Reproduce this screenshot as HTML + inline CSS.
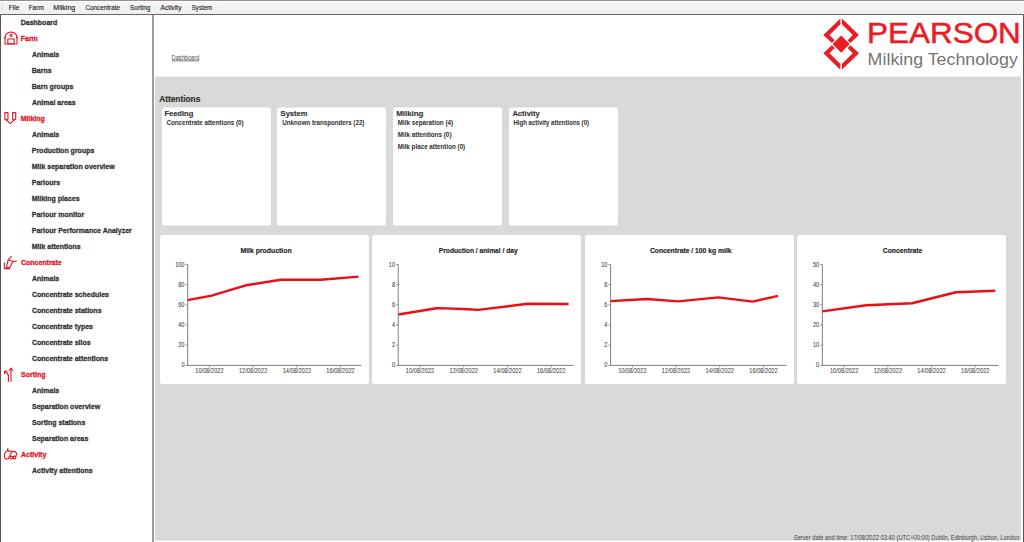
<!DOCTYPE html>
<html><head><meta charset="utf-8"><title>Dashboard</title>
<style>
html,body{margin:0;padding:0;background:#fff;width:1024px;height:542px;overflow:hidden;}
svg{display:block;font-family:"Liberation Sans", sans-serif;}
</style></head><body>
<svg width="1024" height="542" viewBox="0 0 1024 542">
<rect x="0" y="0" width="1024" height="542" fill="#ffffff"/>
<defs><linearGradient id="mb" x1="0" y1="0" x2="0" y2="1"><stop offset="0" stop-color="#f6f6f6"/><stop offset="1" stop-color="#efefef"/></linearGradient></defs>
<rect x="0" y="0" width="1024" height="14" fill="url(#mb)"/>
<rect x="0" y="0" width="1024" height="1" fill="#9c8f94"/>
<rect x="0" y="1" width="1024" height="1" fill="#ffffff"/>
<rect x="0" y="14" width="1024" height="1" fill="#666666"/>
<rect x="2" y="3" width="1" height="8" fill="#dddddd"/>
<text x="8.86" y="9.8" font-size="7" fill="#1a1a1a" text-anchor="start" textLength="10.53" lengthAdjust="spacingAndGlyphs" stroke="#1a1a1a" stroke-width="0.12">File</text>
<text x="28.67" y="9.8" font-size="7" fill="#1a1a1a" text-anchor="start" textLength="15.16" lengthAdjust="spacingAndGlyphs" stroke="#1a1a1a" stroke-width="0.12">Farm</text>
<text x="53.32" y="9.8" font-size="7" fill="#1a1a1a" text-anchor="start" textLength="21.93" lengthAdjust="spacingAndGlyphs" stroke="#1a1a1a" stroke-width="0.12">Milking</text>
<text x="85.48" y="9.8" font-size="7" fill="#1a1a1a" text-anchor="start" textLength="34.50" lengthAdjust="spacingAndGlyphs" stroke="#1a1a1a" stroke-width="0.12">Concentrate</text>
<text x="130.00" y="9.8" font-size="7" fill="#1a1a1a" text-anchor="start" textLength="20.41" lengthAdjust="spacingAndGlyphs" stroke="#1a1a1a" stroke-width="0.12">Sorting</text>
<text x="160.59" y="9.8" font-size="7" fill="#1a1a1a" text-anchor="start" textLength="20.93" lengthAdjust="spacingAndGlyphs" stroke="#1a1a1a" stroke-width="0.12">Activity</text>
<text x="191.72" y="9.8" font-size="7" fill="#1a1a1a" text-anchor="start" textLength="20.49" lengthAdjust="spacingAndGlyphs" stroke="#1a1a1a" stroke-width="0.12">System</text>
<rect x="0" y="15" width="1" height="527" fill="#555555"/>
<rect x="152" y="15" width="2" height="527" fill="#9c9c9c"/>
<rect x="1023" y="15" width="1" height="527" fill="#555555"/>
<rect x="155" y="76.5" width="866" height="463.5" fill="#d9d9d7"/>
<rect x="155" y="538" width="866" height="2" fill="#d6d7d3"/>
<rect x="155" y="540" width="866" height="1" fill="#ececec"/>
<text x="20.73" y="25.1" font-size="7.9" font-weight="bold" fill="#333333" text-anchor="start" textLength="36.56" lengthAdjust="spacingAndGlyphs" stroke="#333333" stroke-width="0.3">Dashboard</text>
<text x="20.73" y="41.1" font-size="7.9" font-weight="bold" fill="#e8141e" text-anchor="start" textLength="17.12" lengthAdjust="spacingAndGlyphs" stroke="#e8141e" stroke-width="0.3">Farm</text>
<text x="32.03" y="57.1" font-size="7.9" font-weight="bold" fill="#333333" text-anchor="start" textLength="27.23" lengthAdjust="spacingAndGlyphs" stroke="#333333" stroke-width="0.3">Animals</text>
<text x="31.73" y="73.1" font-size="7.9" font-weight="bold" fill="#333333" text-anchor="start" textLength="19.84" lengthAdjust="spacingAndGlyphs" stroke="#333333" stroke-width="0.3">Barns</text>
<text x="31.73" y="89.1" font-size="7.9" font-weight="bold" fill="#333333" text-anchor="start" textLength="41.61" lengthAdjust="spacingAndGlyphs" stroke="#333333" stroke-width="0.3">Barn groups</text>
<text x="32.03" y="105.1" font-size="7.9" font-weight="bold" fill="#333333" text-anchor="start" textLength="43.58" lengthAdjust="spacingAndGlyphs" stroke="#333333" stroke-width="0.3">Animal areas</text>
<text x="20.73" y="121.1" font-size="7.9" font-weight="bold" fill="#e8141e" text-anchor="start" textLength="24.11" lengthAdjust="spacingAndGlyphs" stroke="#e8141e" stroke-width="0.3">Milking</text>
<text x="32.03" y="137.1" font-size="7.9" font-weight="bold" fill="#333333" text-anchor="start" textLength="27.23" lengthAdjust="spacingAndGlyphs" stroke="#333333" stroke-width="0.3">Animals</text>
<text x="31.73" y="153.1" font-size="7.9" font-weight="bold" fill="#333333" text-anchor="start" textLength="62.61" lengthAdjust="spacingAndGlyphs" stroke="#333333" stroke-width="0.3">Production groups</text>
<text x="31.73" y="169.1" font-size="7.9" font-weight="bold" fill="#333333" text-anchor="start" textLength="82.87" lengthAdjust="spacingAndGlyphs" stroke="#333333" stroke-width="0.3">Milk separation overview</text>
<text x="31.73" y="185.1" font-size="7.9" font-weight="bold" fill="#333333" text-anchor="start" textLength="28.40" lengthAdjust="spacingAndGlyphs" stroke="#333333" stroke-width="0.3">Parlours</text>
<text x="31.73" y="201.1" font-size="7.9" font-weight="bold" fill="#333333" text-anchor="start" textLength="47.85" lengthAdjust="spacingAndGlyphs" stroke="#333333" stroke-width="0.3">Milking places</text>
<text x="31.73" y="217.1" font-size="7.9" font-weight="bold" fill="#333333" text-anchor="start" textLength="52.50" lengthAdjust="spacingAndGlyphs" stroke="#333333" stroke-width="0.3">Parlour monitor</text>
<text x="31.73" y="233.1" font-size="7.9" font-weight="bold" fill="#333333" text-anchor="start" textLength="100.11" lengthAdjust="spacingAndGlyphs" stroke="#333333" stroke-width="0.3">Parlour Performance Analyzer</text>
<text x="31.73" y="249.1" font-size="7.9" font-weight="bold" fill="#333333" text-anchor="start" textLength="49.00" lengthAdjust="spacingAndGlyphs" stroke="#333333" stroke-width="0.3">Milk attentions</text>
<text x="20.91" y="265.1" font-size="7.9" font-weight="bold" fill="#e8141e" text-anchor="start" textLength="40.84" lengthAdjust="spacingAndGlyphs" stroke="#e8141e" stroke-width="0.3">Concentrate</text>
<text x="32.03" y="281.1" font-size="7.9" font-weight="bold" fill="#333333" text-anchor="start" textLength="27.23" lengthAdjust="spacingAndGlyphs" stroke="#333333" stroke-width="0.3">Animals</text>
<text x="31.91" y="297.1" font-size="7.9" font-weight="bold" fill="#333333" text-anchor="start" textLength="77.02" lengthAdjust="spacingAndGlyphs" stroke="#333333" stroke-width="0.3">Concentrate schedules</text>
<text x="31.91" y="313.1" font-size="7.9" font-weight="bold" fill="#333333" text-anchor="start" textLength="69.62" lengthAdjust="spacingAndGlyphs" stroke="#333333" stroke-width="0.3">Concentrate stations</text>
<text x="31.91" y="329.1" font-size="7.9" font-weight="bold" fill="#333333" text-anchor="start" textLength="61.07" lengthAdjust="spacingAndGlyphs" stroke="#333333" stroke-width="0.3">Concentrate types</text>
<text x="31.91" y="345.1" font-size="7.9" font-weight="bold" fill="#333333" text-anchor="start" textLength="58.74" lengthAdjust="spacingAndGlyphs" stroke="#333333" stroke-width="0.3">Concentrate silos</text>
<text x="31.91" y="361.1" font-size="7.9" font-weight="bold" fill="#333333" text-anchor="start" textLength="76.23" lengthAdjust="spacingAndGlyphs" stroke="#333333" stroke-width="0.3">Concentrate attentions</text>
<text x="21.00" y="377.1" font-size="7.9" font-weight="bold" fill="#e8141e" text-anchor="start" textLength="24.50" lengthAdjust="spacingAndGlyphs" stroke="#e8141e" stroke-width="0.3">Sorting</text>
<text x="32.03" y="393.1" font-size="7.9" font-weight="bold" fill="#333333" text-anchor="start" textLength="27.23" lengthAdjust="spacingAndGlyphs" stroke="#333333" stroke-width="0.3">Animals</text>
<text x="32.00" y="409.1" font-size="7.9" font-weight="bold" fill="#333333" text-anchor="start" textLength="68.08" lengthAdjust="spacingAndGlyphs" stroke="#333333" stroke-width="0.3">Separation overview</text>
<text x="32.00" y="425.1" font-size="7.9" font-weight="bold" fill="#333333" text-anchor="start" textLength="53.28" lengthAdjust="spacingAndGlyphs" stroke="#333333" stroke-width="0.3">Sorting stations</text>
<text x="32.00" y="441.1" font-size="7.9" font-weight="bold" fill="#333333" text-anchor="start" textLength="56.42" lengthAdjust="spacingAndGlyphs" stroke="#333333" stroke-width="0.3">Separation areas</text>
<text x="21.02" y="457.1" font-size="7.9" font-weight="bold" fill="#e8141e" text-anchor="start" textLength="25.29" lengthAdjust="spacingAndGlyphs" stroke="#e8141e" stroke-width="0.3">Activity</text>
<text x="32.03" y="473.1" font-size="7.9" font-weight="bold" fill="#333333" text-anchor="start" textLength="60.68" lengthAdjust="spacingAndGlyphs" stroke="#333333" stroke-width="0.3">Activity attentions</text>
<g fill="none" stroke="#e8141e" stroke-width="1.1" stroke-linejoin="round" stroke-linecap="round"><path d="M5 44 V37.5 Q5.5 32.5 11 32 Q16.5 32.5 17 37.5 V44 Z"/><path d="M4.5 38 L5.5 37"/><path d="M17.5 38 L16.5 37"/><rect x="7.8" y="39" width="6.4" height="4.8"/><circle cx="11" cy="35.3" r="1.1"/></g>
<g fill="none" stroke="#e8141e" stroke-width="1.1" stroke-linejoin="round" stroke-linecap="round"><path d="M4.85 112.6 H7.95 V119.2 L6.4 120 L4.85 119.2 Z"/><path d="M12.6 112.6 H15.7 V119.2 L14.15 120 L12.6 119.2 Z"/><path d="M6.4 120 L10.3 123.6 L14.15 120"/></g>
<g fill="none" stroke="#e8141e" stroke-width="1.1" stroke-linejoin="round" stroke-linecap="round"><path d="M4.4 263 V268.6 H9.8"/><path d="M6.3 267.8 L8.2 259.8 L13 261.5 L9.8 267.2 Z"/><path d="M8.2 259.8 L11.3 256.4"/><path d="M13 261.5 L16.5 261"/></g>
<g fill="none" stroke="#e8141e" stroke-width="1.1" stroke-linejoin="round" stroke-linecap="round"><path d="M11 381.5 V368.5"/><path d="M9.2 370.5 L11 368 L12.8 370.5"/><path d="M8.4 381.5 V375.5 Q8.4 374 5 371.5"/><path d="M4.6 373.8 L4.4 371.2 L7 371"/></g>
<g fill="none" stroke="#e8141e" stroke-width="1.1" stroke-linejoin="round" stroke-linecap="round"><path d="M8 448.5 L7 451 Q4.5 452 4.3 456 Q4.5 459.5 8 459 L12 451.5 Q9 450.5 7 451"/><path d="M12 451.5 Q15.5 451 16.8 453.5 L15.5 457"/><circle cx="11.3" cy="457.5" r="1.4"/><circle cx="14.5" cy="457.5" r="1.4"/></g>
<text x="171.53" y="59.8" font-size="6.7" fill="#4a4a4a" text-anchor="start" textLength="27.83" lengthAdjust="spacingAndGlyphs">Dashboard</text>
<rect x="172" y="60.4" width="27" height="0.9" fill="#6a6a6a"/>
<g fill="#ec1c24"><path d="M840.40,18.60 L823.30,35.10 L831.90,43.10 L834.70,40.30 L829.50,35.10 L840.40,24.30 Z"/><path d="M841.90,18.60 L859.00,35.10 L850.40,43.10 L847.60,40.30 L852.80,35.10 L841.90,24.30 Z"/><path d="M840.40,69.70 L823.30,53.20 L831.90,45.20 L834.70,48.00 L829.50,53.20 L840.40,64.00 Z"/><path d="M841.90,69.70 L859.00,53.20 L850.40,45.20 L847.60,48.00 L852.80,53.20 L841.90,64.00 Z"/><path d="M841.15,35.50 L849.70,44.10 L841.15,52.80 L832.60,44.10 Z"/></g>
<text x="867.02" y="42.6" font-size="29" fill="#ec1c24" text-anchor="start" textLength="153.83" lengthAdjust="spacingAndGlyphs" stroke="#ec1c24" stroke-width="0.5">PEARSON</text>
<text x="867.64" y="64.7" font-size="16.3" fill="#747474" text-anchor="start" textLength="150.19" lengthAdjust="spacingAndGlyphs">Milking Technology</text>
<text x="159.19" y="102" font-size="8.2" font-weight="bold" fill="#333333" text-anchor="start" textLength="41.15" lengthAdjust="spacingAndGlyphs" stroke="#333333" stroke-width="0.2">Attentions</text>
<rect x="162" y="107.5" width="109" height="118" rx="2.5" fill="#ffffff"/>
<text x="164.39" y="115.6" font-size="7.7" font-weight="bold" fill="#333333" text-anchor="start" textLength="28.91" lengthAdjust="spacingAndGlyphs" stroke="#333333" stroke-width="0.15">Feeding</text>
<text x="166.55" y="125.2" font-size="6.6" font-weight="bold" fill="#2e2e2e" text-anchor="start" textLength="76.97" lengthAdjust="spacingAndGlyphs">Concentrate attentions (0)</text>
<rect x="277" y="107.5" width="109" height="118" rx="2.5" fill="#ffffff"/>
<text x="280.58" y="115.6" font-size="7.7" font-weight="bold" fill="#333333" text-anchor="start" textLength="27.00" lengthAdjust="spacingAndGlyphs" stroke="#333333" stroke-width="0.15">System</text>
<text x="282.33" y="125.2" font-size="6.6" font-weight="bold" fill="#2e2e2e" text-anchor="start" textLength="82.08" lengthAdjust="spacingAndGlyphs">Unknown transponders (22)</text>
<rect x="393" y="107.5" width="109" height="118" rx="2.5" fill="#ffffff"/>
<text x="396.17" y="115.6" font-size="7.7" font-weight="bold" fill="#333333" text-anchor="start" textLength="27.26" lengthAdjust="spacingAndGlyphs" stroke="#333333" stroke-width="0.15">Milking</text>
<text x="397.68" y="125.2" font-size="6.6" font-weight="bold" fill="#2e2e2e" text-anchor="start" textLength="55.44" lengthAdjust="spacingAndGlyphs">Milk separation (4)</text>
<text x="397.68" y="136.8" font-size="6.6" font-weight="bold" fill="#2e2e2e" text-anchor="start" textLength="53.84" lengthAdjust="spacingAndGlyphs">Milk attentions (0)</text>
<text x="397.68" y="148.6" font-size="6.6" font-weight="bold" fill="#2e2e2e" text-anchor="start" textLength="67.54" lengthAdjust="spacingAndGlyphs">Milk place attention (0)</text>
<rect x="509" y="107.5" width="109" height="118" rx="2.5" fill="#ffffff"/>
<text x="512.41" y="115.6" font-size="7.7" font-weight="bold" fill="#333333" text-anchor="start" textLength="27.23" lengthAdjust="spacingAndGlyphs" stroke="#333333" stroke-width="0.15">Activity</text>
<text x="513.50" y="125.2" font-size="6.6" font-weight="bold" fill="#2e2e2e" text-anchor="start" textLength="75.50" lengthAdjust="spacingAndGlyphs">High activity attentions (0)</text>
<rect x="160" y="235" width="209" height="149" rx="2.5" fill="#ffffff"/>
<text x="240.44" y="252.9" font-size="7.0" font-weight="bold" fill="#222222" text-anchor="start" textLength="51.19" lengthAdjust="spacingAndGlyphs" stroke="#222222" stroke-width="0.15">Milk production</text>
<rect x="187.1" y="264.5" width="1.1" height="101.39999999999998" fill="#8c8c8c"/>
<rect x="187.1" y="364.9" width="174.40" height="1.1" fill="#8c8c8c"/>
<rect x="185.6" y="364.90" width="2" height="1" fill="#8c8c8c"/>
<text x="184.50" y="367.4" font-size="7.8" fill="#4a4a4a" text-anchor="end" textLength="3.12" lengthAdjust="spacingAndGlyphs" stroke="#4a4a4a" stroke-width="0.1">0</text>
<rect x="185.6" y="344.72" width="2" height="1" fill="#8c8c8c"/>
<text x="184.50" y="347.22" font-size="7.8" fill="#4a4a4a" text-anchor="end" textLength="6.24" lengthAdjust="spacingAndGlyphs" stroke="#4a4a4a" stroke-width="0.1">20</text>
<rect x="185.6" y="324.54" width="2" height="1" fill="#8c8c8c"/>
<text x="184.50" y="327.04" font-size="7.8" fill="#4a4a4a" text-anchor="end" textLength="6.24" lengthAdjust="spacingAndGlyphs" stroke="#4a4a4a" stroke-width="0.1">40</text>
<rect x="185.6" y="304.36" width="2" height="1" fill="#8c8c8c"/>
<text x="184.50" y="306.86" font-size="7.8" fill="#4a4a4a" text-anchor="end" textLength="6.24" lengthAdjust="spacingAndGlyphs" stroke="#4a4a4a" stroke-width="0.1">60</text>
<rect x="185.6" y="284.18" width="2" height="1" fill="#8c8c8c"/>
<text x="184.50" y="286.68" font-size="7.8" fill="#4a4a4a" text-anchor="end" textLength="6.24" lengthAdjust="spacingAndGlyphs" stroke="#4a4a4a" stroke-width="0.1">80</text>
<rect x="185.6" y="264.00" width="2" height="1" fill="#8c8c8c"/>
<text x="184.50" y="266.5" font-size="7.8" fill="#4a4a4a" text-anchor="end" textLength="9.36" lengthAdjust="spacingAndGlyphs" stroke="#4a4a4a" stroke-width="0.1">100</text>
<rect x="208.95" y="365.4" width="1" height="2" fill="#8c8c8c"/>
<text x="209.45" y="372.6" font-size="7.0" fill="#4a4a4a" text-anchor="middle" textLength="28.40" lengthAdjust="spacingAndGlyphs" stroke="#4a4a4a" stroke-width="0.08">10/08/2022</text>
<rect x="252.65" y="365.4" width="1" height="2" fill="#8c8c8c"/>
<text x="253.15" y="372.6" font-size="7.0" fill="#4a4a4a" text-anchor="middle" textLength="28.40" lengthAdjust="spacingAndGlyphs" stroke="#4a4a4a" stroke-width="0.08">12/08/2022</text>
<rect x="296.35" y="365.4" width="1" height="2" fill="#8c8c8c"/>
<text x="296.85" y="372.6" font-size="7.0" fill="#4a4a4a" text-anchor="middle" textLength="28.40" lengthAdjust="spacingAndGlyphs" stroke="#4a4a4a" stroke-width="0.08">14/08/2022</text>
<rect x="340.05" y="365.4" width="1" height="2" fill="#8c8c8c"/>
<text x="340.55" y="372.6" font-size="7.0" fill="#4a4a4a" text-anchor="middle" textLength="28.40" lengthAdjust="spacingAndGlyphs" stroke="#4a4a4a" stroke-width="0.08">16/08/2022</text>
<path d="M187.6,300.1 L211.6,295.6 L245.8,285.3 L280.8,279.8 L321.2,279.8 L358.5,276.6" fill="none" stroke="#eb0e12" stroke-width="2.45" stroke-linejoin="round" stroke-linecap="butt"/>
<rect x="372" y="235" width="209" height="149" rx="2.5" fill="#ffffff"/>
<text x="438.85" y="252.9" font-size="7.0" font-weight="bold" fill="#222222" text-anchor="start" textLength="78.78" lengthAdjust="spacingAndGlyphs" stroke="#222222" stroke-width="0.15">Production / animal / day</text>
<rect x="397.7" y="264.5" width="1.1" height="101.39999999999998" fill="#8c8c8c"/>
<rect x="397.7" y="364.9" width="175.80" height="1.1" fill="#8c8c8c"/>
<rect x="396.2" y="364.90" width="2" height="1" fill="#8c8c8c"/>
<text x="395.10" y="367.4" font-size="7.8" fill="#4a4a4a" text-anchor="end" textLength="3.12" lengthAdjust="spacingAndGlyphs" stroke="#4a4a4a" stroke-width="0.1">0</text>
<rect x="396.2" y="344.72" width="2" height="1" fill="#8c8c8c"/>
<text x="395.10" y="347.22" font-size="7.8" fill="#4a4a4a" text-anchor="end" textLength="3.12" lengthAdjust="spacingAndGlyphs" stroke="#4a4a4a" stroke-width="0.1">2</text>
<rect x="396.2" y="324.54" width="2" height="1" fill="#8c8c8c"/>
<text x="395.10" y="327.04" font-size="7.8" fill="#4a4a4a" text-anchor="end" textLength="3.12" lengthAdjust="spacingAndGlyphs" stroke="#4a4a4a" stroke-width="0.1">4</text>
<rect x="396.2" y="304.36" width="2" height="1" fill="#8c8c8c"/>
<text x="395.10" y="306.86" font-size="7.8" fill="#4a4a4a" text-anchor="end" textLength="3.12" lengthAdjust="spacingAndGlyphs" stroke="#4a4a4a" stroke-width="0.1">6</text>
<rect x="396.2" y="284.18" width="2" height="1" fill="#8c8c8c"/>
<text x="395.10" y="286.68" font-size="7.8" fill="#4a4a4a" text-anchor="end" textLength="3.12" lengthAdjust="spacingAndGlyphs" stroke="#4a4a4a" stroke-width="0.1">8</text>
<rect x="396.2" y="264.00" width="2" height="1" fill="#8c8c8c"/>
<text x="395.10" y="266.5" font-size="7.8" fill="#4a4a4a" text-anchor="end" textLength="6.24" lengthAdjust="spacingAndGlyphs" stroke="#4a4a4a" stroke-width="0.1">10</text>
<rect x="419.55" y="365.4" width="1" height="2" fill="#8c8c8c"/>
<text x="420.05" y="372.6" font-size="7.0" fill="#4a4a4a" text-anchor="middle" textLength="28.40" lengthAdjust="spacingAndGlyphs" stroke="#4a4a4a" stroke-width="0.08">10/08/2022</text>
<rect x="463.25" y="365.4" width="1" height="2" fill="#8c8c8c"/>
<text x="463.75" y="372.6" font-size="7.0" fill="#4a4a4a" text-anchor="middle" textLength="28.40" lengthAdjust="spacingAndGlyphs" stroke="#4a4a4a" stroke-width="0.08">12/08/2022</text>
<rect x="506.95" y="365.4" width="1" height="2" fill="#8c8c8c"/>
<text x="507.45" y="372.6" font-size="7.0" fill="#4a4a4a" text-anchor="middle" textLength="28.40" lengthAdjust="spacingAndGlyphs" stroke="#4a4a4a" stroke-width="0.08">14/08/2022</text>
<rect x="550.65" y="365.4" width="1" height="2" fill="#8c8c8c"/>
<text x="551.15" y="372.6" font-size="7.0" fill="#4a4a4a" text-anchor="middle" textLength="28.40" lengthAdjust="spacingAndGlyphs" stroke="#4a4a4a" stroke-width="0.08">16/08/2022</text>
<path d="M398.5,314.5 L436.4,308.3 L446,308.4 L468,309.3 L478.3,309.9 L527.4,303.8 L568.6,304" fill="none" stroke="#eb0e12" stroke-width="2.45" stroke-linejoin="round" stroke-linecap="butt"/>
<rect x="585" y="235" width="209" height="149" rx="2.5" fill="#ffffff"/>
<text x="649.92" y="252.9" font-size="7.0" font-weight="bold" fill="#222222" text-anchor="start" textLength="81.67" lengthAdjust="spacingAndGlyphs" stroke="#222222" stroke-width="0.15">Concentrate / 100 kg milk</text>
<rect x="610.0" y="264.5" width="1.1" height="101.39999999999998" fill="#8c8c8c"/>
<rect x="610.0" y="364.9" width="176.50" height="1.1" fill="#8c8c8c"/>
<rect x="608.5" y="364.90" width="2" height="1" fill="#8c8c8c"/>
<text x="607.40" y="367.4" font-size="7.8" fill="#4a4a4a" text-anchor="end" textLength="3.12" lengthAdjust="spacingAndGlyphs" stroke="#4a4a4a" stroke-width="0.1">0</text>
<rect x="608.5" y="344.72" width="2" height="1" fill="#8c8c8c"/>
<text x="607.40" y="347.22" font-size="7.8" fill="#4a4a4a" text-anchor="end" textLength="3.12" lengthAdjust="spacingAndGlyphs" stroke="#4a4a4a" stroke-width="0.1">2</text>
<rect x="608.5" y="324.54" width="2" height="1" fill="#8c8c8c"/>
<text x="607.40" y="327.04" font-size="7.8" fill="#4a4a4a" text-anchor="end" textLength="3.12" lengthAdjust="spacingAndGlyphs" stroke="#4a4a4a" stroke-width="0.1">4</text>
<rect x="608.5" y="304.36" width="2" height="1" fill="#8c8c8c"/>
<text x="607.40" y="306.86" font-size="7.8" fill="#4a4a4a" text-anchor="end" textLength="3.12" lengthAdjust="spacingAndGlyphs" stroke="#4a4a4a" stroke-width="0.1">6</text>
<rect x="608.5" y="284.18" width="2" height="1" fill="#8c8c8c"/>
<text x="607.40" y="286.68" font-size="7.8" fill="#4a4a4a" text-anchor="end" textLength="3.12" lengthAdjust="spacingAndGlyphs" stroke="#4a4a4a" stroke-width="0.1">8</text>
<rect x="608.5" y="264.00" width="2" height="1" fill="#8c8c8c"/>
<text x="607.40" y="266.5" font-size="7.8" fill="#4a4a4a" text-anchor="end" textLength="6.24" lengthAdjust="spacingAndGlyphs" stroke="#4a4a4a" stroke-width="0.1">10</text>
<rect x="631.85" y="365.4" width="1" height="2" fill="#8c8c8c"/>
<text x="632.35" y="372.6" font-size="7.0" fill="#4a4a4a" text-anchor="middle" textLength="28.40" lengthAdjust="spacingAndGlyphs" stroke="#4a4a4a" stroke-width="0.08">10/08/2022</text>
<rect x="675.55" y="365.4" width="1" height="2" fill="#8c8c8c"/>
<text x="676.05" y="372.6" font-size="7.0" fill="#4a4a4a" text-anchor="middle" textLength="28.40" lengthAdjust="spacingAndGlyphs" stroke="#4a4a4a" stroke-width="0.08">12/08/2022</text>
<rect x="719.25" y="365.4" width="1" height="2" fill="#8c8c8c"/>
<text x="719.75" y="372.6" font-size="7.0" fill="#4a4a4a" text-anchor="middle" textLength="28.40" lengthAdjust="spacingAndGlyphs" stroke="#4a4a4a" stroke-width="0.08">14/08/2022</text>
<rect x="762.95" y="365.4" width="1" height="2" fill="#8c8c8c"/>
<text x="763.45" y="372.6" font-size="7.0" fill="#4a4a4a" text-anchor="middle" textLength="28.40" lengthAdjust="spacingAndGlyphs" stroke="#4a4a4a" stroke-width="0.08">16/08/2022</text>
<path d="M610.5,301.1 L646.8,299 L678.1,301.4 L718.4,297.4 L752.6,301.6 L778,295.9" fill="none" stroke="#eb0e12" stroke-width="2.45" stroke-linejoin="round" stroke-linecap="butt"/>
<rect x="797" y="235" width="209" height="149" rx="2.5" fill="#ffffff"/>
<text x="882.82" y="252.9" font-size="7.0" font-weight="bold" fill="#222222" text-anchor="start" textLength="39.51" lengthAdjust="spacingAndGlyphs" stroke="#222222" stroke-width="0.15">Concentrate</text>
<rect x="821.8" y="264.5" width="1.1" height="101.39999999999998" fill="#8c8c8c"/>
<rect x="821.8" y="364.9" width="176.70" height="1.1" fill="#8c8c8c"/>
<rect x="820.3" y="364.90" width="2" height="1" fill="#8c8c8c"/>
<text x="819.20" y="367.4" font-size="7.8" fill="#4a4a4a" text-anchor="end" textLength="3.12" lengthAdjust="spacingAndGlyphs" stroke="#4a4a4a" stroke-width="0.1">0</text>
<rect x="820.3" y="344.72" width="2" height="1" fill="#8c8c8c"/>
<text x="819.20" y="347.22" font-size="7.8" fill="#4a4a4a" text-anchor="end" textLength="6.24" lengthAdjust="spacingAndGlyphs" stroke="#4a4a4a" stroke-width="0.1">10</text>
<rect x="820.3" y="324.54" width="2" height="1" fill="#8c8c8c"/>
<text x="819.20" y="327.04" font-size="7.8" fill="#4a4a4a" text-anchor="end" textLength="6.24" lengthAdjust="spacingAndGlyphs" stroke="#4a4a4a" stroke-width="0.1">20</text>
<rect x="820.3" y="304.36" width="2" height="1" fill="#8c8c8c"/>
<text x="819.20" y="306.86" font-size="7.8" fill="#4a4a4a" text-anchor="end" textLength="6.24" lengthAdjust="spacingAndGlyphs" stroke="#4a4a4a" stroke-width="0.1">30</text>
<rect x="820.3" y="284.18" width="2" height="1" fill="#8c8c8c"/>
<text x="819.20" y="286.68" font-size="7.8" fill="#4a4a4a" text-anchor="end" textLength="6.24" lengthAdjust="spacingAndGlyphs" stroke="#4a4a4a" stroke-width="0.1">40</text>
<rect x="820.3" y="264.00" width="2" height="1" fill="#8c8c8c"/>
<text x="819.20" y="266.5" font-size="7.8" fill="#4a4a4a" text-anchor="end" textLength="6.24" lengthAdjust="spacingAndGlyphs" stroke="#4a4a4a" stroke-width="0.1">50</text>
<rect x="843.65" y="365.4" width="1" height="2" fill="#8c8c8c"/>
<text x="844.15" y="372.6" font-size="7.0" fill="#4a4a4a" text-anchor="middle" textLength="28.40" lengthAdjust="spacingAndGlyphs" stroke="#4a4a4a" stroke-width="0.08">10/08/2022</text>
<rect x="887.35" y="365.4" width="1" height="2" fill="#8c8c8c"/>
<text x="887.85" y="372.6" font-size="7.0" fill="#4a4a4a" text-anchor="middle" textLength="28.40" lengthAdjust="spacingAndGlyphs" stroke="#4a4a4a" stroke-width="0.08">12/08/2022</text>
<rect x="931.05" y="365.4" width="1" height="2" fill="#8c8c8c"/>
<text x="931.55" y="372.6" font-size="7.0" fill="#4a4a4a" text-anchor="middle" textLength="28.40" lengthAdjust="spacingAndGlyphs" stroke="#4a4a4a" stroke-width="0.08">14/08/2022</text>
<rect x="974.75" y="365.4" width="1" height="2" fill="#8c8c8c"/>
<text x="975.25" y="372.6" font-size="7.0" fill="#4a4a4a" text-anchor="middle" textLength="28.40" lengthAdjust="spacingAndGlyphs" stroke="#4a4a4a" stroke-width="0.08">16/08/2022</text>
<path d="M822.3,311.4 L866.3,305.3 L912,303.2 L956,292.2 L976,291.5 L995.3,290.8" fill="none" stroke="#eb0e12" stroke-width="2.45" stroke-linejoin="round" stroke-linecap="butt"/>
<text x="793.84" y="539.5" font-size="7" fill="#444444" text-anchor="start" textLength="225.53" lengthAdjust="spacingAndGlyphs">Server date and time: 17/08/2022 03:40 (UTC+00:00) Dublin, Edinburgh, Lisbon, London</text>
</svg>
</body></html>
